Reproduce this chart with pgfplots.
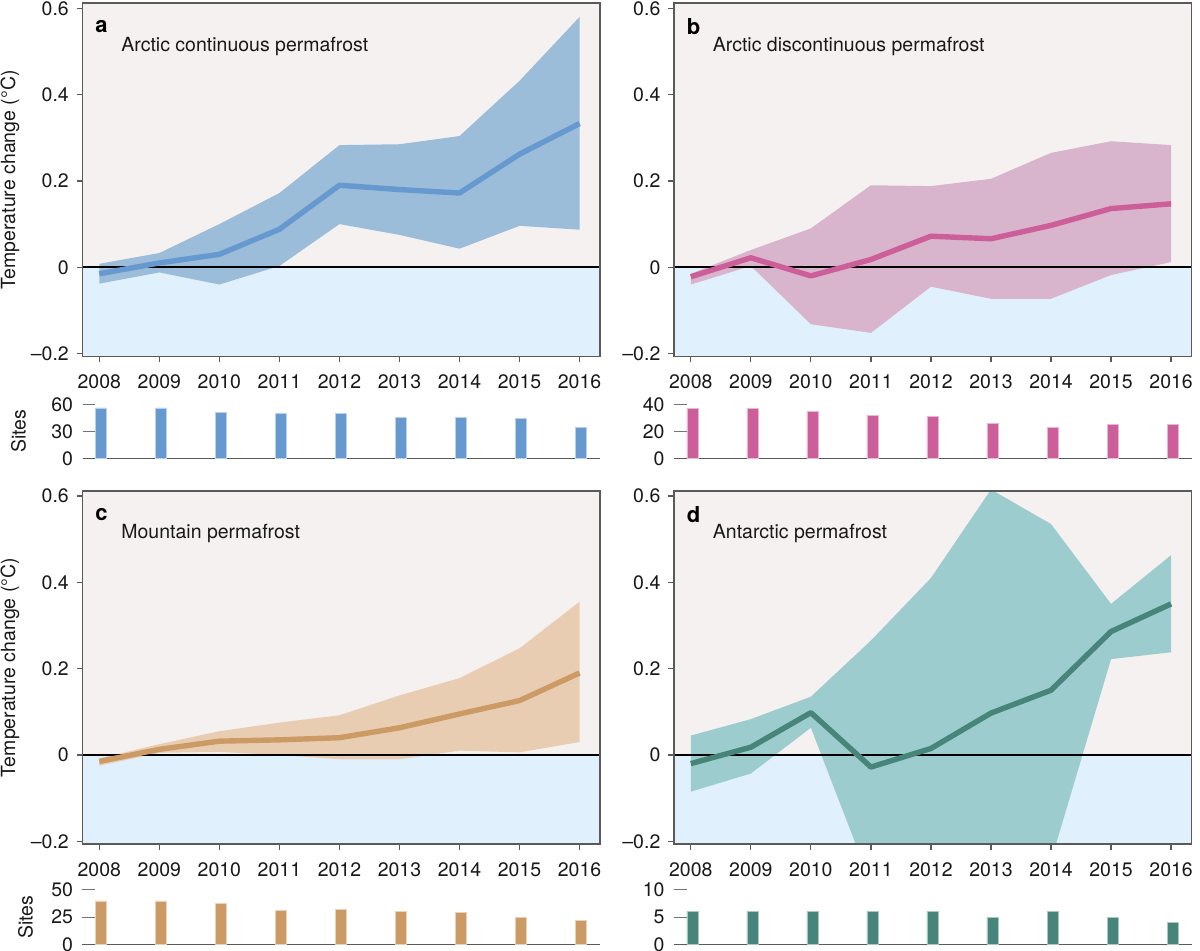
\documentclass[border=0pt]{standalone}
\usepackage{fontspec}
\setmainfont{TeX Gyre Heros}
\usepackage{pgfplots}
\pgfplotsset{compat=1.18}
\newcommand\fz{\fontsize{9.75}{11}\selectfont}
\definecolor{spine}{HTML}{5A5A5A}
\definecolor{bgup}{HTML}{F6F1F1}
\definecolor{bgdn}{HTML}{E0F0FD}
\definecolor{lnA}{HTML}{6699CF}\definecolor{bdA}{HTML}{9BBDD9}
\definecolor{lnB}{HTML}{CC5F9A}\definecolor{bdB}{HTML}{D8B5CC}
\definecolor{lnC}{HTML}{CC9A64}\definecolor{bdC}{HTML}{E8CDB2}
\definecolor{lnD}{HTML}{47857A}\definecolor{bdD}{HTML}{9CCCCD}
\tikzset{
  letter/.style={font=\fontsize{11}{12}\selectfont\bfseries, text=black, anchor=west, inner sep=0pt},
  name/.style={font=\fontsize{9.75}{11}\selectfont, text=black!90, anchor=west, inner sep=0pt},
}
\pgfplotsset{
  common/.style={
    scale only axis, anchor=south west,
    xmin=2007.72, xmax=2016.34,
    tick label style={font=\fz, text=black!90},
    label style={font=\fz, text=black!90},
  },
  temp/.style={
    common, width=258.75pt, height=176.6pt,
    ymin=-0.2067, ymax=0.6116,
    xtick={2008,2009,2010,2011,2012,2013,2014,2015,2016},
    xticklabels={2008,2009,2010,2011,2012,2013,2014,2015,2016},
    ytick={-0.2,0,0.2,0.4,0.6},
    yticklabels={–0.2,0,0.2,0.4,0.6},
    xtick pos=bottom, ytick pos=left, tick align=outside,
    major tick length=3pt,
    tick style={spine, line width=0.6pt},
    axis line style={spine, line width=0.8pt},
    axis on top,
    xticklabel style={yshift=-2.5pt},
    yticklabel style={xshift=-0.3pt},
  },
  tempL/.style={temp, ylabel={Temperature change (°C)},
    y label style={at={(axis description cs:-0.14,0.5)}, anchor=center}},
  sites/.style={
    common, width=258.75pt,
    xtick=\empty, tick align=inside,
    axis x line*=bottom, axis y line*=left,
    y axis line style={draw=none},
    x axis line style={spine, line width=0.6pt, -},
    major tick length=6.5pt,
    tick style={spine!85, line width=0.5pt},
    yticklabel style={xshift=-1.2pt},
    ybar, bar width=5.5pt, bar shift=0.75pt,
    clip=false,
  },
  sitesL/.style={sites, ylabel={Sites},
    y label style={at={(axis description cs:#1,0.5)}, anchor=center}},
  bgU/.style={fill=bgup, draw=none, forget plot},
  bgD/.style={fill=bgdn, draw=none, forget plot},
  zero/.style={black, line width=0.8pt, forget plot},
  mean/.style={line width=2.7pt, line join=round},
}
\begin{document}
\begin{tikzpicture}
\useasboundingbox (0pt,0pt) rectangle (600pt,475.5pt);

% a
\begin{axis}[tempL, at={(41.25pt,297.25pt)}]
\addplot[bgU] coordinates {(2007.72,0) (2016.34,0) (2016.34,0.6116) (2007.72,0.6116)} -- cycle;
\addplot[bgD] coordinates {(2007.72,0) (2016.34,0) (2016.34,-0.2067) (2007.72,-0.2067)} -- cycle;
\addplot[fill=bdA, draw=none] coordinates {
 (2008,0.008) (2009,0.033) (2010,0.100) (2011,0.172) (2012,0.283) (2013,0.285) (2014,0.304) (2015,0.432) (2016,0.580)
 (2016,0.087) (2015,0.096) (2014,0.043) (2013,0.075) (2012,0.100) (2011,0.003) (2010,-0.040) (2009,-0.012) (2008,-0.038)} -- cycle;
\addplot[zero] coordinates {(2007.72,0) (2016.34,0)};
\addplot[mean, lnA] coordinates {(2008,-0.015) (2009,0.010) (2010,0.030) (2011,0.088) (2012,0.190) (2013,0.180) (2014,0.172) (2015,0.262) (2016,0.333)};
\node[letter] at (rel axis cs:0.024,0.933) {a};
\node[name] at (rel axis cs:0.0744,0.879) {Arctic continuous permafrost};
\end{axis}
\begin{axis}[sitesL=-0.1237, at={(41.25pt,246.35pt)}, height=27pt, ymin=0, ymax=60, ytick={0,30,60}, yticklabels={0,30,60}]
\addplot[fill=lnA, draw=lnA!45, line width=0.3pt] coordinates {(2008,56) (2009,56) (2010,51) (2011,50) (2012,50) (2013,45) (2014,45) (2015,44) (2016,34)};
\end{axis}

% b
\begin{axis}[temp, at={(337pt,297.25pt)}]
\addplot[bgU] coordinates {(2007.72,0) (2016.34,0) (2016.34,0.6116) (2007.72,0.6116)} -- cycle;
\addplot[bgD] coordinates {(2007.72,0) (2016.34,0) (2016.34,-0.2067) (2007.72,-0.2067)} -- cycle;
\addplot[fill=bdB, draw=none] coordinates {
 (2008,-0.015) (2009,0.040) (2010,0.090) (2011,0.190) (2012,0.188) (2013,0.205) (2014,0.265) (2015,0.292) (2016,0.283)
 (2016,0.012) (2015,-0.018) (2014,-0.073) (2013,-0.073) (2012,-0.045) (2011,-0.152) (2010,-0.132) (2009,0.003) (2008,-0.040)} -- cycle;
\addplot[zero] coordinates {(2007.72,0) (2016.34,0)};
\addplot[mean, lnB] coordinates {(2008,-0.022) (2009,0.022) (2010,-0.020) (2011,0.018) (2012,0.072) (2013,0.066) (2014,0.097) (2015,0.136) (2016,0.147)};
\node[letter] at (rel axis cs:0.024,0.933) {b};
\node[name] at (rel axis cs:0.0744,0.879) {Arctic discontinuous permafrost};
\end{axis}
\begin{axis}[sites, at={(337pt,246.35pt)}, height=27pt, ymin=0, ymax=40, ytick={0,20,40}, yticklabels={0,20,40}]
\addplot[fill=lnB, draw=lnB!45, line width=0.3pt] coordinates {(2008,37) (2009,37) (2010,35) (2011,32) (2012,31) (2013,26) (2014,23) (2015,25) (2016,25)};
\end{axis}

% c
\begin{axis}[tempL, at={(41.25pt,53.4pt)}]
\addplot[bgU] coordinates {(2007.72,0) (2016.34,0) (2016.34,0.6116) (2007.72,0.6116)} -- cycle;
\addplot[bgD] coordinates {(2007.72,0) (2016.34,0) (2016.34,-0.2067) (2007.72,-0.2067)} -- cycle;
\addplot[fill=bdC, draw=none] coordinates {
 (2008,-0.008) (2009,0.025) (2010,0.055) (2011,0.075) (2012,0.092) (2013,0.138) (2014,0.178) (2015,0.247) (2016,0.355)
 (2016,0.030) (2015,0.006) (2014,0.010) (2013,-0.010) (2012,-0.010) (2011,0.000) (2010,0.007) (2009,0.005) (2008,-0.025)} -- cycle;
\addplot[zero] coordinates {(2007.72,0) (2016.34,0)};
\addplot[mean, lnC] coordinates {(2008,-0.015) (2009,0.013) (2010,0.032) (2011,0.035) (2012,0.040) (2013,0.063) (2014,0.095) (2015,0.126) (2016,0.190)};
\node[letter] at (rel axis cs:0.024,0.933) {c};
\node[name] at (rel axis cs:0.0744,0.879) {Mountain permafrost};
\end{axis}
\begin{axis}[sitesL=-0.11, at={(41.25pt,3.35pt)}, height=27.15pt, ymin=0, ymax=50, ytick={0,25,50}, yticklabels={0,25,50}]
\addplot[fill=lnC, draw=lnC!45, line width=0.3pt] coordinates {(2008,40) (2009,40) (2010,38) (2011,31) (2012,32) (2013,30) (2014,29) (2015,25) (2016,22)};
\end{axis}

% d
\begin{axis}[temp, at={(337pt,53.4pt)}]
\addplot[bgU] coordinates {(2007.72,0) (2016.34,0) (2016.34,0.6116) (2007.72,0.6116)} -- cycle;
\addplot[bgD] coordinates {(2007.72,0) (2016.34,0) (2016.34,-0.2067) (2007.72,-0.2067)} -- cycle;
\addplot[fill=bdD, draw=none] coordinates {
 (2008,0.045) (2009,0.083) (2010,0.135) (2011,0.265) (2012,0.410) (2013,0.615) (2014,0.535) (2015,0.350) (2016,0.463)
 (2016,0.238) (2015,0.222) (2014,-0.245) (2013,-0.300) (2012,-0.300) (2011,-0.298) (2010,0.063) (2009,-0.043) (2008,-0.085)} -- cycle;
\addplot[zero] coordinates {(2007.72,0) (2016.34,0)};
\addplot[mean, lnD] coordinates {(2008,-0.020) (2009,0.018) (2010,0.098) (2011,-0.028) (2012,0.015) (2013,0.097) (2014,0.150) (2015,0.286) (2016,0.350)};
\node[letter] at (rel axis cs:0.024,0.933) {d};
\node[name] at (rel axis cs:0.0744,0.879) {Antarctic permafrost};
\end{axis}
\begin{axis}[sites, at={(337pt,3.35pt)}, height=27.15pt, ymin=0, ymax=10, ytick={0,5,10}, yticklabels={0,5,10}]
\addplot[fill=lnD, draw=lnD!45, line width=0.3pt] coordinates {(2008,6) (2009,6) (2010,6) (2011,6) (2012,6) (2013,5) (2014,6) (2015,5) (2016,4)};
\end{axis}
\end{tikzpicture}
\end{document}
